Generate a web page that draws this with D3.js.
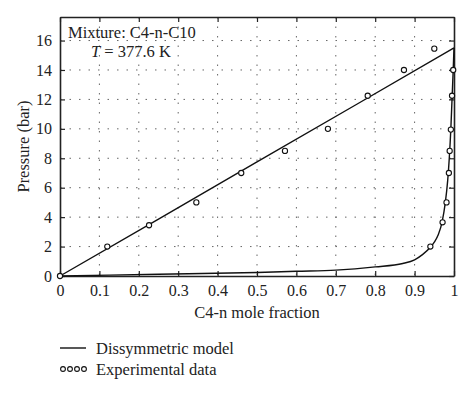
<!DOCTYPE html>
<html>
<head>
<meta charset="utf-8">
<script src="https://cdn.jsdelivr.net/npm/d3@7"></script>
<style>
  body { margin: 0; background: #fff; }
  svg { font-family: "Liberation Serif", "DejaVu Serif", serif; }
</style>
</head>
<body>
<div id="chart"></div>
<script>
// chart size, same as the window
const svgWidth = 474;
const svgHeight = 394;
const margin = { top: 17, right: 20, bottom: 118, left: 60 };
const width = 454 - margin.left;
const height = 276 - margin.top;

// experimental points, bubble side then dew side
const expX = [0, 0.12, 0.226, 0.346, 0.46, 0.571, 0.68, 0.781, 0.873, 0.95,
              0.940, 0.971, 0.981, 0.987, 0.989, 0.992, 0.995, 0.998];
const expP = [0, 2.0, 3.45, 5.0, 7.0, 8.5, 10.0, 12.25, 14.0, 15.45,
              2.0, 3.65, 5.0, 7.0, 8.5, 9.95, 12.25, 14.0];

// model: bubble line
const bubbleX = [0, 0.25, 0.5, 0.75, 1.0];
const bubbleP = [0, 3.87, 7.75, 11.62, 15.5];
// model: dew curve
const dewX = [0, 0.25, 0.5, 0.6, 0.7, 0.8, 0.87, 0.9, 0.92, 0.94, 0.95, 0.96, 0.97, 0.978, 0.984, 0.988, 0.992, 0.995, 0.998, 1.0];
const dewP = [0, 0.12, 0.24, 0.32, 0.4, 0.62, 0.85, 1.1, 1.45, 1.95, 2.3, 2.8, 3.7, 5.0, 6.5, 8.0, 10.0, 12.0, 14.0, 15.5];

const xTicks = [0, 0.1, 0.2, 0.3, 0.4, 0.5, 0.6, 0.7, 0.8, 0.9, 1];
const yTicks = [0, 2, 4, 6, 8, 10, 12, 14, 16];

const svg = d3.select("#chart")
    .append("svg")
    .attr("width", svgWidth)
    .attr("height", svgHeight);

const g = svg.append("g")
    .attr("transform", `translate(${margin.left},${margin.top})`);

const x = d3.scaleLinear().domain([0, 1]).range([0, width]);
const y = d3.scaleLinear().domain([0, 17.6]).range([height, 0]);

// dotted grid
g.selectAll(".gx").data(xTicks.slice(1, -1)).enter().append("line")
    .attr("x1", d => x(d)).attr("x2", d => x(d))
    .attr("y1", 0).attr("y2", height)
    .attr("stroke", "#666").attr("stroke-width", 1)
    .attr("stroke-dasharray", "1.5,8");
g.selectAll(".gy").data(yTicks.slice(1)).enter().append("line")
    .attr("x1", 0).attr("x2", width)
    .attr("y1", d => y(d)).attr("y2", d => y(d))
    .attr("stroke", "#666").attr("stroke-width", 1)
    .attr("stroke-dasharray", "1.5,8");

// axes with inward ticks on all four sides
const fmt = d => d === 0 || d === 1 ? d3.format("d")(d) : String(d);
g.append("g").attr("class", "axis")
    .attr("transform", `translate(0,${height})`)
    .call(d3.axisBottom(x).tickValues(xTicks).tickFormat(fmt).tickSizeInner(-5).tickSizeOuter(0).tickPadding(9));
g.append("g").attr("class", "axis")
    .call(d3.axisLeft(y).tickValues(yTicks).tickSizeInner(-5).tickSizeOuter(0).tickPadding(8));
g.append("g").attr("class", "axis noLabel")
    .call(d3.axisTop(x).tickValues(xTicks).tickSizeInner(-5).tickSizeOuter(0));
g.append("g").attr("class", "axis noLabel")
    .attr("transform", `translate(${width},0)`)
    .call(d3.axisRight(y).tickValues(yTicks).tickSizeInner(-5).tickSizeOuter(0));
g.selectAll(".noLabel text").remove();
g.selectAll(".axis .domain").attr("stroke", "#222").attr("stroke-width", 1.6);
g.selectAll(".axis line").attr("stroke", "#222").attr("stroke-width", 1.2);
g.selectAll(".axis text")
    .attr("font-family", "Liberation Serif, serif")
    .attr("font-size", "16px")
    .attr("fill", "#222");

// model lines
const line = d3.line().x(d => x(d[0])).y(d => y(d[1]));
g.append("path")
    .datum(d3.zip(bubbleX, bubbleP))
    .attr("d", line)
    .attr("fill", "none")
    .attr("stroke", "#111")
    .attr("stroke-width", 1.4);
g.append("path")
    .datum(d3.zip(dewX, dewP))
    .attr("d", line.curve(d3.curveMonotoneX))
    .attr("fill", "none")
    .attr("stroke", "#111")
    .attr("stroke-width", 1.4);

// experimental circles
g.selectAll(".pt").data(d3.zip(expX, expP)).enter().append("circle")
    .attr("cx", d => x(d[0]))
    .attr("cy", d => y(d[1]))
    .attr("r", 2.6)
    .attr("fill", "#fff")
    .attr("stroke", "#111")
    .attr("stroke-width", 1.1);

// box label
const note = g.append("text").attr("font-size", "16.5px").attr("fill", "#222");
note.append("tspan").attr("x", 8).attr("y", 21).text("Mixture: C4-n-C10");
const note2 = g.append("text").attr("font-size", "16.5px").attr("fill", "#222")
    .attr("x", 31).attr("y", 40);
note2.append("tspan").attr("font-style", "italic").text("T");
note2.append("tspan").text(" = 377.6 K");

// axis titles
svg.append("text")
    .text("C4-n mole fraction")
    .attr("x", margin.left + width / 2)
    .attr("y", 318)
    .attr("text-anchor", "middle")
    .attr("font-size", "16.5px")
    .attr("fill", "#222");
svg.append("text")
    .text("Pressure (bar)")
    .attr("transform", `translate(29,${margin.top + height / 2}) rotate(-90)`)
    .attr("text-anchor", "middle")
    .attr("font-size", "16.5px")
    .attr("fill", "#222");

// legend
svg.append("line")
    .attr("x1", 60).attr("x2", 86).attr("y1", 348).attr("y2", 348)
    .attr("stroke", "#111").attr("stroke-width", 1.4);
svg.append("text").text("Dissymmetric model")
    .attr("x", 96).attr("y", 354).attr("font-size", "16.5px").attr("fill", "#222");
svg.selectAll(".legPt").data([0, 1, 2, 3]).enter().append("circle")
    .attr("cx", d => 63 + d * 7).attr("cy", 369).attr("r", 2.4)
    .attr("fill", "#fff").attr("stroke", "#111").attr("stroke-width", 1.1);
svg.append("text").text("Experimental data")
    .attr("x", 96).attr("y", 375).attr("font-size", "16.5px").attr("fill", "#222");
</script>
</body>
</html>
